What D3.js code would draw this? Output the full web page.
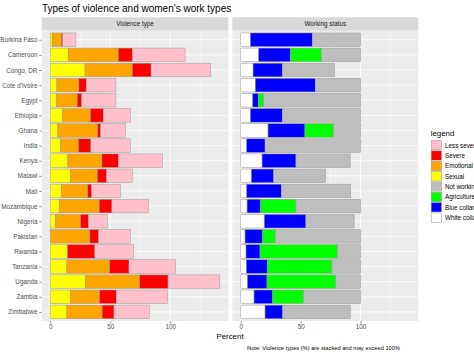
<!DOCTYPE html>
<html><head><meta charset="utf-8">
<script src="https://cdn.jsdelivr.net/npm/d3@7"></script>
<style>body{margin:0;background:#fff}svg{display:block;font-family:"Liberation Sans",Arial,Helvetica,sans-serif}</style>
</head><body><svg id="c" width="474" height="355"></svg>
<script>
const countries = ["Burkina Faso","Cameroon","Congo, DR","Cote d'Ivoire","Egypt","Ethiopia","Ghana","India","Kenya","Malawi","Mali","Mozambique","Nigeria","Pakistan","Rwanda","Tanzania","Uganda","Zambia","Zimbabwe"];
const sexual     = [1.7, 15, 29, 5.6, 5.3, 10.3, 6.4, 8.6, 14.7, 16.7, 9.2, 7.5, 4.2, 0, 14.4, 13.9, 29.2, 16.7, 13.9];
const emotional  = [7.6, 41.7, 39.4, 18.3, 17.2, 23.3, 33.1, 15, 28.4, 22.5, 22, 33.3, 21.1, 33.1, 0, 35.6, 45.3, 24.5, 29.4];
const severe     = [1.1, 11.7, 15.6, 6.1, 3.7, 10.6, 2.5, 10.3, 13.6, 7.8, 3.3, 10.6, 6.4, 7.2, 22.8, 16.1, 23.6, 13.8, 9.8];
const lessSevere = [11, 43.9, 49.7, 24.7, 28.5, 22.5, 20.8, 32.8, 36.9, 21.3, 23.8, 30.3, 15.8, 26.4, 32, 38.9, 43.1, 42.5, 29.4];
const whiteCollar = [8.1, 15, 10.3, 12.2, 10, 8.1, 22.8, 5, 17.8, 8.9, 5, 5.3, 19.7, 3.6, 4.4, 4.7, 5.6, 11.1, 20.3];
const blueCollar  = [51.6, 26.7, 24.4, 50, 4.7, 26.6, 30.8, 15.3, 28.3, 18.6, 28.9, 11.4, 34.7, 14.7, 11.7, 17.5, 16.3, 15.6, 14.7];
const agriculture = [0, 25.8, 0, 0, 4.5, 0, 23.9, 0, 0, 0, 0, 29.4, 0, 10.6, 64.5, 53.9, 57.5, 25.8, 0];
const notWorking  = [40.3, 32.5, 43.6, 37.8, 80.8, 65.3, 22.5, 79.7, 45.3, 43.3, 58, 53.9, 40.3, 71.1, 19.4, 23.9, 20.6, 47.5, 56.4];
const xTicks = [0, 50, 100];
const legendLabels = ["Less severe","Severe","Emotional","Sexual","Not working","Agriculture","Blue collar","White collar"];
const legendColors = ["#FFC0CB","#FF0000","#FFA500","#FFFF00","#BEBEBE","#00FF00","#0000FF","#FFFFFF"];

const panels = [
  {name:"Violence type", series:[sexual, emotional, severe, lessSevere], colors:["#FFFF00","#FFA500","#FF0000","#FFC0CB"], x0:41.7, x1:228.3},
  {name:"Working status", series:[whiteCollar, blueCollar, agriculture, notWorking], colors:["#FFFFFF","#0000FF","#00FF00","#BEBEBE"], x0:232.3, x1:418.3}
];

const svg = d3.select("#c");
const panelTop = 30.7, panelBottom = 321;
let maxTot = 0;
panels.forEach(p => countries.forEach((c,i) => { maxTot = Math.max(maxTot, d3.sum(p.series, s => s[i])); }));
const dom = [-0.05*maxTot, 1.05*maxTot];
const y = d3.scalePoint().domain(countries).range([panelTop, panelBottom]).padding(0.6);
const bh = y.step()*0.9;

svg.append("text").attr("x",42).attr("y",11.5).attr("font-size",10).attr("fill","#000").text("Types of violence and women's work types");

panels.forEach((p, pi) => {
  const x = d3.scaleLinear().domain(dom).range([p.x0, p.x1]);
  const g = svg.append("g");
  g.append("rect").attr("x",p.x0).attr("y",17.3).attr("width",p.x1-p.x0).attr("height",panelTop-17.3).attr("fill","#D9D9D9");
  g.append("text").attr("x",(p.x0+p.x1)/2).attr("y",26.3).attr("text-anchor","middle").attr("font-size",6.3).attr("fill","#1A1A1A").text(p.name);
  g.append("rect").attr("x",p.x0).attr("y",panelTop).attr("width",p.x1-p.x0).attr("height",panelBottom-panelTop).attr("fill","#EBEBEB");
  [25,75,125].forEach(v => g.append("line").attr("x1",x(v)).attr("x2",x(v)).attr("y1",panelTop).attr("y2",panelBottom).attr("stroke","#fff").attr("stroke-width",0.4));
  xTicks.forEach(v => g.append("line").attr("x1",x(v)).attr("x2",x(v)).attr("y1",panelTop).attr("y2",panelBottom).attr("stroke","#fff").attr("stroke-width",0.8));
  countries.forEach(c => g.append("line").attr("x1",p.x0).attr("x2",p.x1).attr("y1",y(c)).attr("y2",y(c)).attr("stroke","#fff").attr("stroke-width",0.8));
  countries.forEach((c,i) => {
    let acc = 0;
    p.series.forEach((s,si) => {
      const v = s[i];
      if (v > 0) {
        g.append("rect").attr("x",x(acc)).attr("y",y(c)-bh/2).attr("width",x(acc+v)-x(acc)).attr("height",bh)
          .attr("fill",p.colors[si]).attr("stroke","#9A9A9A").attr("stroke-width",0.5);
      }
      acc += v;
    });
  });
  const ax = svg.append("g").attr("transform",`translate(0,${panelBottom})`).call(d3.axisBottom(x).tickValues(xTicks).tickSize(2.5).tickPadding(1.5));
  ax.select(".domain").remove();
  ax.selectAll("line").attr("stroke","#333").attr("stroke-width",0.5);
  ax.selectAll("text").attr("font-size",6.3).attr("fill","#4D4D4D").attr("font-family","Liberation Sans, Arial, sans-serif");
  if (pi === 0) {
    const ay = svg.append("g").attr("transform",`translate(${p.x0},0)`).call(d3.axisLeft(y).tickSize(2.5).tickPadding(1.8));
    ay.select(".domain").remove();
    ay.selectAll("line").attr("stroke","#333").attr("stroke-width",0.5);
    ay.selectAll("text").attr("font-size",6.3).attr("fill","#4D4D4D").attr("font-family","Liberation Sans, Arial, sans-serif");
  }
});

svg.append("text").attr("x",230).attr("y",338.5).attr("text-anchor","middle").attr("font-size",7.9).attr("fill","#000").text("Percent");
svg.append("text").attr("x",400).attr("y",349.5).attr("text-anchor","end").attr("font-size",5.7).attr("fill","#000").text("Note: Violence types (%) are stacked and may exceed 100%");

const lg = svg.append("g");
lg.append("text").attr("x",430.7).attr("y",135.8).attr("font-size",7.9).attr("fill","#000").text("legend");
legendLabels.forEach((l,i) => {
  const ky = 140 + i*10.35;
  lg.append("rect").attr("x",430.7).attr("y",ky).attr("width",11.3).attr("height",10.35).attr("fill","#F2F2F2");
  lg.append("rect").attr("x",431.2).attr("y",ky+0.5).attr("width",10.3).attr("height",9.35).attr("fill",legendColors[i]).attr("stroke","#9A9A9A").attr("stroke-width",0.5);
  lg.append("text").attr("x",445).attr("y",ky+7.5).attr("font-size",6.3).attr("fill","#000").text(l);
});
</script></body></html>
